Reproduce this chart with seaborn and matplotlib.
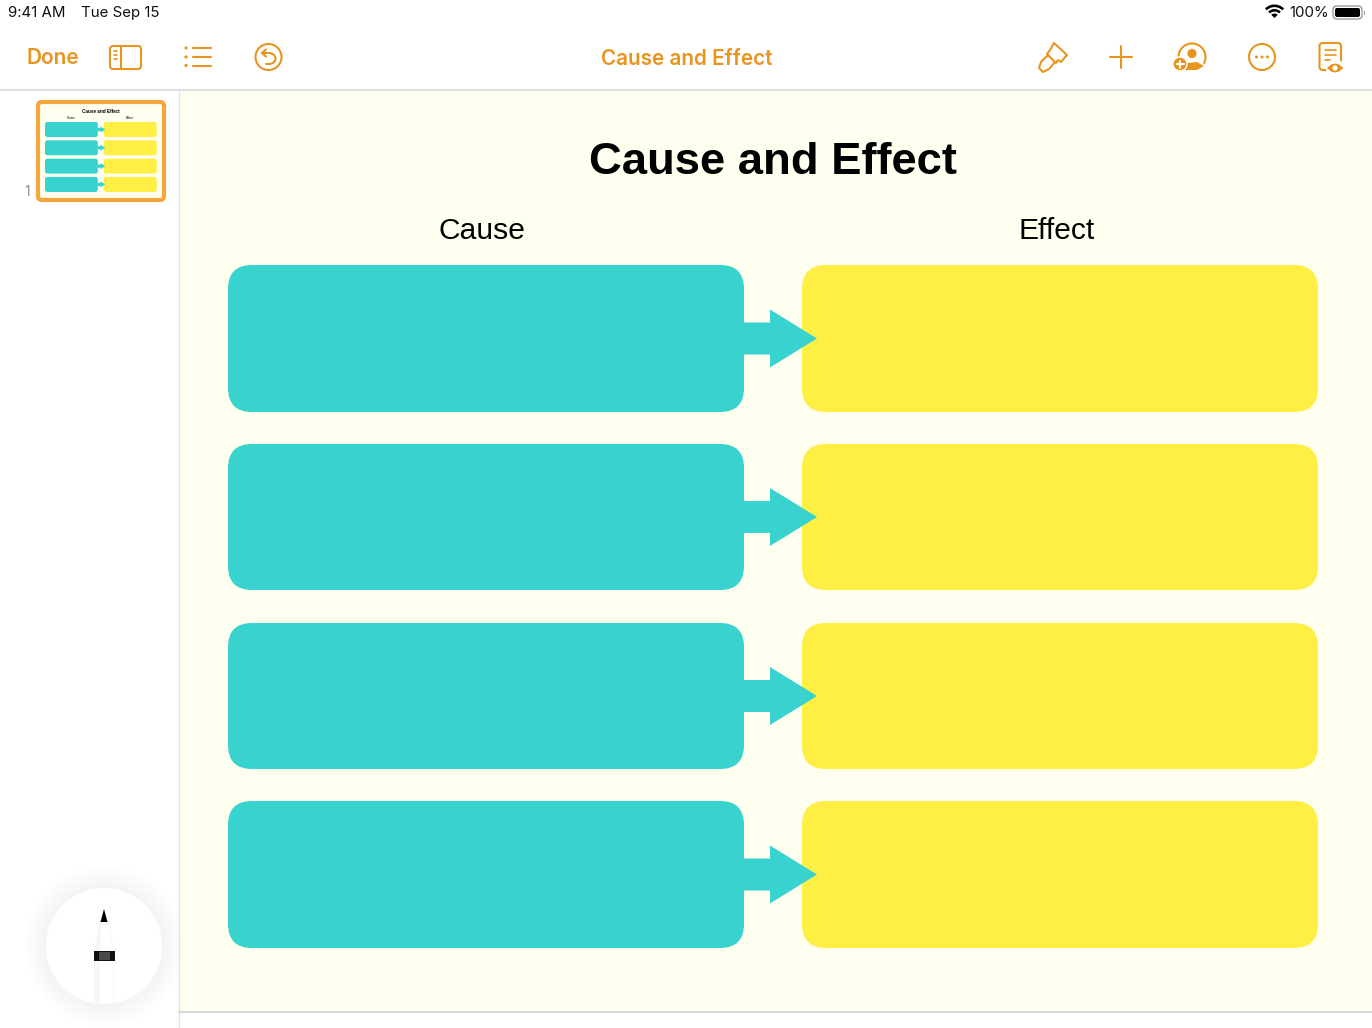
import numpy as np
import matplotlib.pyplot as plt
import seaborn as sns
from matplotlib.patches import Circle, FancyBboxPatch, Polygon, Rectangle, Wedge, Arc

# Slide content
title = 'Cause and Effect'
column_labels = ['Cause', 'Effect']
column_lefts = [228, 802]
row_tops = [265, 444, 623, 801]
row_bottoms = [412, 590, 769, 948]
box_colors = ['#38D3CF', '#FFEE44']

# Colours
orange = '#E8941F'
page_color = '#FFFFF0'
edge_color = '#DEDEDE'

sns.set_style('white')
plt.rcParams['font.family'] = ['Liberation Sans', 'DejaVu Sans']

fig = plt.figure(figsize=(13.72, 10.28), dpi=100)
ax = fig.add_axes([0, 0, 1, 1])
ax.set_xlim(0, 1372)
ax.set_ylim(1028, 0)
ax.set_axis_off()


def round_box(x0, y0, x1, y1, r, **kw):
    patch = FancyBboxPatch((x0 + r, y0 + r), x1 - x0 - 2 * r, y1 - y0 - 2 * r,
                           boxstyle=f'round,pad={r},rounding_size={r}', **kw)
    ax.add_patch(patch)
    return patch


def draw_slide(scale, dx, dy):
    # same drawing for the big page and the sidebar thumbnail
    sx = lambda v: dx + v * scale
    sy = lambda v: dy + v * scale
    for left, label, color in zip(column_lefts, column_labels, box_colors):
        for top, bottom in zip(row_tops, row_bottoms):
            round_box(sx(left), sy(top), sx(left + 516), sy(bottom), 24 * scale,
                      fc=color, ec='none', zorder=3)
    for top, bottom in zip(row_tops, row_bottoms):
        mid = (top + bottom) / 2
        arrow = [(743, mid - 16), (770, mid - 16), (770, mid - 29), (817, mid),
                 (770, mid + 29), (770, mid + 16), (743, mid + 16)]
        ax.add_patch(Polygon([(sx(a), sy(b)) for a, b in arrow], fc=box_colors[0],
                             ec='none', zorder=4))
    ax.text(sx(773), sy(162), title, ha='center', va='center', fontsize=32.7 * scale,
            fontweight='bold', color='black', zorder=5)
    for cx, label in zip([482, 1057], column_labels):
        ax.text(sx(cx), sy(231), label, ha='center', va='center', fontsize=21.6 * scale,
                color='black', zorder=5)


# App background and page
ax.add_patch(Rectangle((179, 90), 1193, 921, fc=page_color, ec='none', zorder=1))
ax.plot([0, 1372], [89.5, 89.5], color=edge_color, lw=1.5, zorder=2)
draw_slide(1.0, 0, 0)

# Thumbnail
round_box(38, 102, 164, 200, 4, fc=page_color, ec='#F4A63A', lw=3, zorder=2)
draw_slide(0.1025, 21.6, 94.8)
ui_font = ['Inter', 'DejaVu Sans']
ax.text(27, 191.5, '1', ha='center', va='center', fontsize=10, color='#8E8E8E', family=ui_font)

# Status bar
ax.text(8, 13, '9:41 AM', va='center', fontsize=10.8, color='#111111', family=ui_font)
ax.text(81, 13, 'Tue Sep 15', va='center', fontsize=10.8, color='#111111', family=ui_font)
ax.text(1289, 13, '100%', va='center', fontsize=10.8, color='#111111', family=ui_font)
for r, w in [(13.5, 2.6), (9, 2.6), (4.5, 4.5)]:
    ax.add_patch(Wedge((1274.5, 18), r, 225, 315, width=w, fc='black', ec='none'))
round_box(1333, 6, 1362, 19, 4, fc='white', ec='#9A9A9A', lw=1)
round_box(1335, 8, 1360, 17, 2, fc='black', ec='none', zorder=3)
ax.add_patch(Rectangle((1363.5, 10.5), 1.5, 4, fc='#9A9A9A', ec='none'))

# Toolbar text
ax.text(26, 57.5, 'Done', va='center', fontsize=15, fontweight='semibold', color=orange,
        family=ui_font)
ax.text(686.5, 59, title, ha='center', va='center', fontsize=14.9, fontweight='semibold',
        color=orange, family=ui_font)

# Toolbar icons, left side
icon = dict(color=orange, lw=1.5, solid_capstyle='round')
round_box(110, 46, 141, 69, 3, fc='none', ec=orange, lw=1.5)
ax.plot([120.5, 120.5], [46, 69], **icon)
for y in [51, 55, 59]:
    ax.plot([114, 117], [y, y], color=orange, lw=1.2)
for y in [48, 57, 65.5]:
    ax.add_patch(Circle((186, y), 1.6, fc=orange, ec='none'))
    ax.plot([193, 211], [y, y], **icon)
ax.add_patch(Circle((268.5, 57), 13, fc='none', ec=orange, lw=1.5))
ax.add_patch(Arc((269, 58.5), 13, 11, theta1=-90, theta2=90, color=orange, lw=1.5))
ax.plot([269, 262], [53, 53], **icon)
ax.plot([266, 262, 266], [49.5, 53, 56.5], **icon)
ax.plot([269, 266], [64, 64], **icon)

# Toolbar icons, right side
bristles = [(1054, 43), (1067, 55), (1061, 62), (1058, 60), (1056, 63), (1047, 54), (1050, 50)]
ax.add_patch(Polygon(bristles, closed=True, fc='none', ec=orange, lw=1.5, joinstyle='round'))
handle = [(1048, 55), (1041, 62), (1039, 68), (1043, 72), (1049, 69), (1055, 62)]
ax.add_patch(Polygon(handle, closed=False, fc='none', ec=orange, lw=1.5, joinstyle='round'))
ax.plot([1110, 1132], [57, 57], **icon)
ax.plot([1121, 1121], [46, 68], **icon)

ax.add_patch(Arc((1192, 57), 27, 27, theta1=110, theta2=30, color=orange, lw=1.5))
ax.add_patch(Circle((1192, 53.5), 4.6, fc=orange, ec='none'))
ax.add_patch(Polygon([(1187, 70), (1187, 63), (1197, 62), (1204, 66), (1197, 70)],
                     fc=orange, ec='none'))
ax.add_patch(Circle((1180, 64), 7, fc=orange, ec='white', lw=1, zorder=3))
ax.plot([1176.5, 1183.5], [64, 64], color='white', lw=1.5, zorder=4)
ax.plot([1180, 1180], [60.5, 67.5], color='white', lw=1.5, zorder=4)

ax.add_patch(Circle((1262, 57), 13, fc='none', ec=orange, lw=1.5))
for x in [1256.5, 1262, 1267.5]:
    ax.add_patch(Circle((x, 57), 1.5, fc=orange, ec='none'))

round_box(1319.5, 43, 1341, 70, 3, fc='none', ec=orange, lw=1.5)
for y, x1 in [(50, 1336), (55, 1336), (60, 1331)]:
    ax.plot([1325, x1], [y, y], color=orange, lw=1.2)
ax.add_patch(Circle((1335, 68), 9, fc='white', ec='none', zorder=3))
ax.add_patch(Polygon([(1327, 68), (1331, 64.5), (1335, 63.5), (1339, 64.5), (1343.5, 68),
                      (1339, 71.5), (1335, 72.5), (1331, 71.5)], fc=orange, ec='none', zorder=4))
ax.add_patch(Circle((1335, 68), 2.6, fc='white', ec='none', zorder=5))

# Pencil button with a soft shadow
for r in np.arange(80, 58, -2):
    ax.add_patch(Circle((104, 946), r, fc='#8080B0', ec='none', alpha=0.009, zorder=2))
ax.add_patch(Rectangle((179, 860), 60, 168, fc=page_color, ec='none', zorder=2))
ax.add_patch(Rectangle((179, 1013), 1193, 15, fc='white', ec='none', zorder=2))
ax.plot([178.5, 178.5], [90, 1028], color='#E4E4E4', lw=1, zorder=2)
ax.plot([179, 1372], [1012, 1012], color='#D8D8D8', lw=1.5, zorder=2)
ax.add_patch(Circle((104, 946), 58, fc='white', ec='none', zorder=3))
ax.add_patch(Polygon([(100, 921), (108, 921), (114, 951), (114, 1003), (108, 1003.5),
                      (94, 1002), (94, 951)], fc='#F6F6F6', ec='none', zorder=4))
ax.add_patch(Polygon([(101, 925), (108, 925), (113, 951), (113, 1003), (100, 1003.5),
                      (100, 951)], fc='white', ec='none', zorder=4))
ax.add_patch(Polygon([(104, 909), (107.5, 922), (100.5, 922)], fc='black', ec='none', zorder=5))
ax.add_patch(Rectangle((94, 951), 21, 10, fc='#111111', ec='none', zorder=5))
ax.add_patch(Rectangle((99, 952), 11, 8, fc='#4A4A4A', ec='none', zorder=6))

fig.savefig('out.png', dpi=100)
